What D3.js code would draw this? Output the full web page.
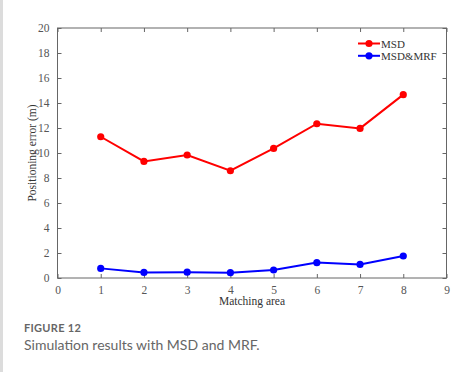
<!DOCTYPE html>
<html>
<head>
<meta charset="utf-8">
<script src="https://cdn.jsdelivr.net/npm/d3@7"></script>
<style>
body { margin: 0; background: #fff; }
svg { display: block; }
</style>
</head>
<body>
<svg id="chart" width="474" height="375"></svg>
<script>
var areas = [1, 2, 3, 4, 5, 6, 7, 8];
var msd = [11.3, 9.33, 9.84, 8.58, 10.37, 12.34, 11.97, 14.67];
var msdMrf = [0.77, 0.45, 0.47, 0.43, 0.64, 1.23, 1.09, 1.76];
var xTicks = [0, 1, 2, 3, 4, 5, 6, 7, 8, 9];
var yTicks = [0, 2, 4, 6, 8, 10, 12, 14, 16, 18, 20];
var seriesNames = ["MSD", "MSD&MRF"];
var seriesColors = ["#ff0000", "#0000ff"];

var margin = {top: 28, left: 57.5, right: 27.5, bottom: 97};
var width = 474 - margin.left - margin.right;
var height = 375 - margin.top - margin.bottom;

var svg = d3.select("#chart");

// grey strip on the left edge
svg.append("rect").attr("x", 0).attr("y", 0).attr("width", 3).attr("height", 372).attr("fill", "#dcdcdc");

var g = svg.append("g").attr("transform", "translate(" + margin.left + "," + margin.top + ")");

var xs = d3.scaleLinear().domain([0, 9]).range([0, width]);
var ys = d3.scaleLinear().domain([0, 20]).range([height, 0]);

var axisColor = "#666";
var serif = "'Liberation Serif', 'Times New Roman', serif";

function styleAxis(sel, showText) {
  sel.select(".domain").remove();
  sel.selectAll("line").attr("stroke", axisColor);
  sel.selectAll("text").attr("fill", "#555").style("font-family", serif).style("font-size", "11.5px");
  if (!showText) sel.selectAll("text").remove();
}

g.append("g").attr("transform", "translate(0," + height + ")")
  .call(d3.axisBottom(xs).tickValues(xTicks).tickSizeInner(-4).tickSizeOuter(0).tickPadding(8))
  .call(styleAxis, true);
g.append("g")
  .call(d3.axisTop(xs).tickValues(xTicks).tickSizeInner(-4).tickSizeOuter(0))
  .call(styleAxis, false);
g.append("g")
  .call(d3.axisLeft(ys).tickValues(yTicks).tickSizeInner(-4).tickSizeOuter(0).tickPadding(8))
  .call(styleAxis, true);
g.append("g").attr("transform", "translate(" + width + ",0)")
  .call(d3.axisRight(ys).tickValues(yTicks).tickSizeInner(-4).tickSizeOuter(0))
  .call(styleAxis, false);

g.append("rect").attr("width", width).attr("height", height)
  .attr("fill", "none").attr("stroke", axisColor).attr("stroke-width", 1);

var line = d3.line().x(function(d, i) { return xs(areas[i]); }).y(function(d) { return ys(d); });

[msd, msdMrf].forEach(function(vals, k) {
  g.append("path").datum(vals).attr("d", line)
    .attr("fill", "none").attr("stroke", seriesColors[k]).attr("stroke-width", 2);
  g.selectAll(".pt" + k).data(vals).enter().append("circle")
    .attr("class", "pt" + k)
    .attr("cx", function(d, i) { return xs(areas[i]); })
    .attr("cy", function(d) { return ys(d); })
    .attr("r", 3.6)
    .attr("fill", seriesColors[k]);
});

// legend
var leg = g.append("g").attr("transform", "translate(" + (358 - margin.left) + "," + (43.5 - margin.top) + ")");
seriesNames.forEach(function(name, k) {
  var row = leg.append("g").attr("transform", "translate(0," + (k * 12.3) + ")");
  row.append("line").attr("x1", 0).attr("x2", 22).attr("stroke", seriesColors[k]).attr("stroke-width", 2);
  row.append("circle").attr("cx", 11).attr("r", 3.6).attr("fill", seriesColors[k]);
  row.append("text").attr("x", 23).attr("y", 4).text(name)
    .style("font-family", serif).style("font-size", "11px").attr("fill", "#333");
});

// axis titles
g.append("text").attr("x", width / 2).attr("y", height + 27)
  .attr("text-anchor", "middle").text("Matching area")
  .style("font-family", serif).style("font-size", "11.5px").attr("fill", "#333");
g.append("text").attr("transform", "rotate(-90)")
  .attr("x", -height / 2).attr("y", -22)
  .attr("text-anchor", "middle").text("Positioning error (m)")
  .style("font-family", serif).style("font-size", "11.5px").attr("fill", "#333");

// caption
svg.append("text").attr("x", 24).attr("y", 332).text("FIGURE 12")
  .style("font-family", "Lato, 'Open Sans', sans-serif").style("font-size", "11px")
  .style("font-weight", "bold").style("letter-spacing", "0.3px").attr("fill", "#666");
svg.append("text").attr("x", 24).attr("y", 350).text("Simulation results with MSD and MRF.")
  .style("font-family", "Lato, 'Open Sans', sans-serif").style("font-size", "14px")
  .attr("fill", "#666");
</script>
</body>
</html>
